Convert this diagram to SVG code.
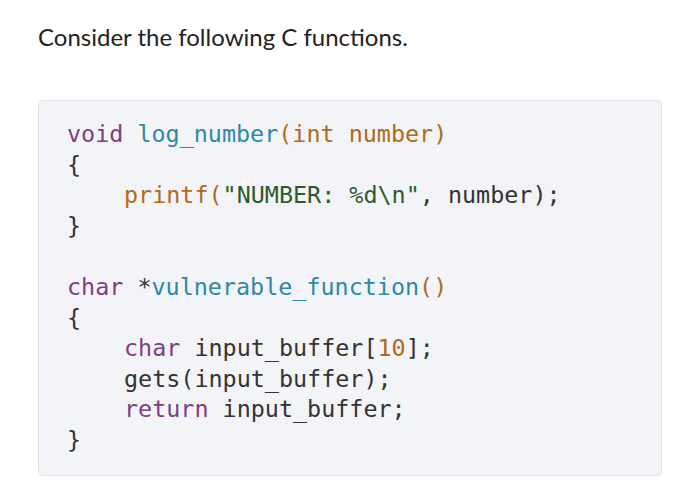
<svg xmlns="http://www.w3.org/2000/svg" width="700" height="503" viewBox="0 0 700 503">
<style>
.c{font-family:"DejaVu Sans Mono",monospace;font-size:23.4px;fill:#333;white-space:pre}
.k{fill:#7b3f82}.f{fill:#2f88a8}.o{fill:#b06a1e}.s{fill:#2e5a2e}
</style>
<rect width="700" height="503" fill="#fff"/>
<text x="38" y="46" font-family="Lato, 'Liberation Sans', sans-serif" font-size="24" fill="#222">Consider the following C functions.</text>
<rect x="38.5" y="100.5" width="623" height="375" rx="3" fill="#f3f4f7" stroke="#e1e3e8"/>
<text class="c" x="67" y="142"><tspan class="k">void</tspan> <tspan class="f">log_number</tspan><tspan class="o">(int</tspan> <tspan class="o">number)</tspan></text>
<text class="c" x="67" y="173">{</text>
<text class="c" x="124" y="203"><tspan class="o">printf(</tspan><tspan class="s">"NUMBER: %d\n"</tspan>, number);</text>
<text class="c" x="67" y="234">}</text>
<text class="c" x="67" y="295"><tspan class="k">char</tspan> *<tspan class="f">vulnerable_function</tspan><tspan class="o">()</tspan></text>
<text class="c" x="67" y="326">{</text>
<text class="c" x="124" y="356"><tspan class="k">char</tspan> input_buffer[<tspan class="o">10</tspan>];</text>
<text class="c" x="124" y="387">gets(input_buffer);</text>
<text class="c" x="124" y="417"><tspan class="k">return</tspan> input_buffer;</text>
<text class="c" x="67" y="448">}</text>
</svg>
